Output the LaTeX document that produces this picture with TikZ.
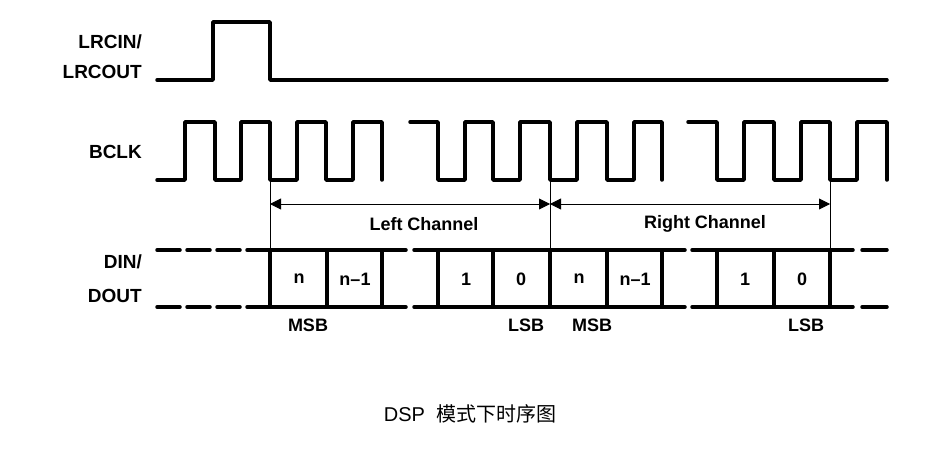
\documentclass[tikz,border=0pt]{standalone}
\usepackage{fontspec}
\setmainfont{Liberation Sans}
\newfontfamily\cjk{Noto Sans CJK SC}
\usetikzlibrary{arrows.meta}
\begin{document}
\begin{tikzpicture}[x=1pt,y=-1pt,
  sig/.style={line width=3.5pt,line cap=round,line join=round},
  thin/.style={line width=0.9pt},
  dim/.style={line width=0.9pt,{Triangle[length=11pt,width=11pt]}-{Triangle[length=11pt,width=11pt]}},
  lab/.style={font=\fontsize{19}{19}\selectfont\bfseries,anchor=east,inner sep=0},
  dat/.style={font=\fontsize{18}{18}\selectfont\bfseries,inner sep=0},
  sub/.style={font=\fontsize{18}{18}\selectfont\bfseries,inner sep=0}]
\useasboundingbox (0,0) rectangle (941,457);
% labels
\node[lab] (l1) at (142,42) {LRCIN/};
\node[lab] (l2) at (142,72) {LRCOUT};
\node[lab] (l3) at (142,152) {BCLK};
\node[lab] (l4) at (142,262) {DIN/};
\node[lab] (l5) at (142,296) {DOUT};
% LRCIN
\draw[sig] (157,80) -- (213,80) -- (213,22) -- (270,22) -- (270,80) -- (887,80);
% BCLK
\draw[sig] (157,180) -- (185,180) -- (185,122) -- (215,122) -- (215,180) -- (241,180) -- (241,122) -- (270,122) -- (270,180) -- (297,180) -- (297,122) -- (326,122) -- (326,180) -- (353,180) -- (353,122) -- (382,122) -- (382,180);
\draw[sig] (410,122) -- (438,122) -- (438,180) -- (465,180) -- (465,122) -- (493,122) -- (493,180) -- (520,180) -- (520,122) -- (550,122) -- (550,180) -- (577,180) -- (577,122) -- (607,122) -- (607,180) -- (634,180) -- (634,122) -- (662,122) -- (662,180);
\draw[sig] (688,122) -- (717,122) -- (717,180) -- (744,180) -- (744,122) -- (774,122) -- (774,180) -- (801,180) -- (801,122) -- (830,122) -- (830,180) -- (857,180) -- (857,122) -- (887,122) -- (887,180);
% ticks
\coordinate (t1a) at (270,180); \coordinate (t1b) at (270,250);
\coordinate (t2a) at (550,180); \coordinate (t2b) at (550,250);
\coordinate (t3a) at (830,180); \coordinate (t3b) at (830,250);
\draw[thin] (t1a) -- (t1b); \draw[thin] (t2a) -- (t2b); \draw[thin] (t3a) -- (t3b);
\coordinate (a1) at (270,204); \coordinate (a2) at (550,204); \coordinate (a3) at (830,204);
\draw[dim] (a1) -- (a2);
\draw[dim] (a2) -- (a3);
\node[dat] (lc) at (424,224) {Left Channel};
\node[dat] (rc) at (705,224) {Right Channel};
% DIN
\foreach \y in {250,307}{
  \foreach \a in {157,187,217}{\draw[sig] (\a,\y) -- ++(23,0);}
  \draw[sig] (247,\y) -- (406,\y);
  \draw[sig] (414,\y) -- (685,\y);
  \draw[sig] (692,\y) -- (853,\y);
  \draw[sig] (862,\y) -- (887,\y);
}
\foreach \x in {270,327,382,438,493,550,607,662,717,774,830}{\draw[sig] (\x,250) -- (\x,307);}
\node[dat] (d1) at (299,279) {n};
\node[dat] (d2) at (355,279) {n–1};
\node[dat] (d3) at (466,279) {1};
\node[dat] (d4) at (521,279) {0};
\node[dat] (d5) at (579,279) {n};
\node[dat] (d6) at (635,279) {n–1};
\node[dat] (d7) at (745,279) {1};
\node[dat] (d8) at (802,279) {0};
\node[sub] (m1) at (308,325) {MSB};
\node[sub] (s1) at (526,325) {LSB};
\node[sub] (m2) at (592,325) {MSB};
\node[sub] (s2) at (806,325) {LSB};
\node[inner sep=0,font=\fontsize{20}{20}\selectfont] (cap) at (470,414) {DSP\ \ {\cjk 模式下时序图}};
\end{tikzpicture}
\end{document}
